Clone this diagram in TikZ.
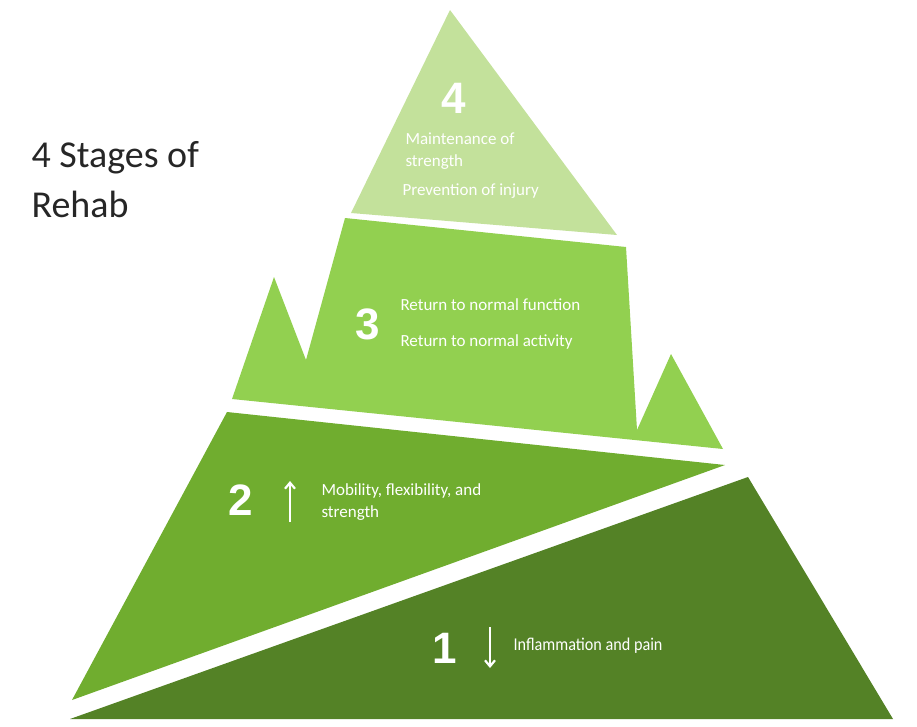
\documentclass[tikz,border=0pt]{standalone}
\usepackage{fontspec}
\usetikzlibrary{arrows.meta}
\setmainfont{Carlito}
\newfontfamily\numf{Liberation Sans}
\definecolor{cA}{HTML}{C3E19B}
\definecolor{cB}{HTML}{92D050}
\definecolor{cC}{HTML}{70AD2F}
\definecolor{cD}{HTML}{548226}
\begin{document}
\begin{tikzpicture}[x=1pt,y=-1pt,
  num/.style={font=\numf\bfseries\fontsize{44}{44}\selectfont,text=white},
  lbl/.style={font=\fontsize{17}{22}\selectfont,text=white,anchor=west,align=left},
  arr/.style={white,line width=2.2pt,-{Straight Barb[length=6pt,width=10pt]}}]
\useasboundingbox (0,0) rectangle (917,726);
\fill[cD] (70,719) -- (748,477) -- (893,719) -- cycle;
\fill[cC] (227,412) -- (725,465) -- (72,700) -- cycle;
\fill[cB] (232,399) -- (274,277) -- (306,360) -- (345,218) -- (626,247) -- (637,430) -- (671,354) -- (723,449) -- cycle;
\fill[cA] (450,10) -- (617,235) -- (351,213) -- cycle;
\node[font=\fontsize{38}{50}\selectfont,text=black!85,anchor=north west,align=left] (title) at (28,138) {4 Stages of\\Rehab};
\node[num] (n4) at (454,98) {4};
\node[lbl] (t4a) at (402,151) {Maintenance of\\strength};
\node[lbl] (t4b) at (399,191) {Prevention of injury};
\node[num] (n3) at (368,324) {3};
\node[lbl] (t3a) at (397,305) {Return to normal function};
\node[lbl] (t3b) at (397,342) {Return to normal activity};
\node[num] (n2) at (241,500) {2};
\coordinate (a2s) at (290,522); \coordinate (a2e) at (290,481);
\draw[arr] (a2s) -- (a2e);
\node[lbl] (t2) at (318,502) {Mobility, flexibility, and\\strength};
\node[num] (n1) at (445,648) {1};
\coordinate (a1s) at (490,627); \coordinate (a1e) at (490,668);
\draw[arr] (a1s) -- (a1e);
\node[lbl,font=\fontsize{18}{22}\selectfont\addfontfeatures{FakeStretch=0.9}] (t1) at (510,646) {Inflammation and pain};
\end{tikzpicture}
\end{document}
